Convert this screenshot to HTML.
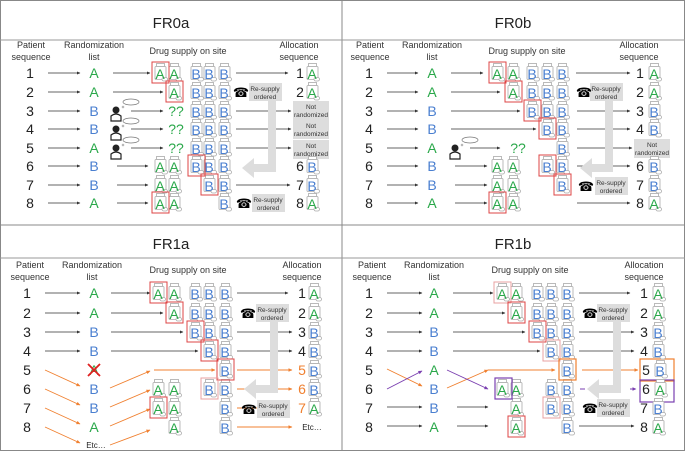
<!DOCTYPE html>
<html><head><meta charset="utf-8"><style>
html,body{margin:0;padding:0;background:#fff}
svg{display:block}
text{font-family:"Liberation Sans",sans-serif}
.t{font-size:15px;fill:#222;text-anchor:middle}
.h{font-size:9px;fill:#333;text-anchor:middle}
.n{font-size:14px;fill:#222;text-anchor:middle}
.g{font-size:14px;fill:#2aa84a;text-anchor:middle}
.b{font-size:14px;fill:#4a7fd0;text-anchor:middle}
.o{font-size:14px;fill:#f08030;text-anchor:middle}
.s{font-size:6.5px;fill:#333;text-anchor:middle}
.e{font-size:8px;fill:#222;text-anchor:middle}
.ph{font-size:13px;fill:#000;text-anchor:middle}
</style></head><body>
<svg width="685" height="451" viewBox="0 0 685 451" xmlns="http://www.w3.org/2000/svg">
<defs>
<marker id="ar" markerWidth="5" markerHeight="5" refX="4" refY="2.5" orient="auto"><path d="M0,0.5 L4.5,2.5 L0,4.5z" fill="#333"/></marker>
<marker id="ao" markerWidth="5" markerHeight="5" refX="4" refY="2.5" orient="auto"><path d="M0,0.5 L4.5,2.5 L0,4.5z" fill="#f08030"/></marker>
<marker id="ap" markerWidth="5" markerHeight="5" refX="4" refY="2.5" orient="auto"><path d="M0,0.5 L4.5,2.5 L0,4.5z" fill="#7a3fb0"/></marker>
<symbol id="bt" viewBox="0 0 14 19"><rect x="2.5" y="0.5" width="8" height="3" fill="#fff" stroke="#aaa" stroke-width="0.8"/><rect x="1" y="3.5" width="11" height="13" rx="1" fill="#fff" stroke="#aaa" stroke-width="0.8"/><rect x="8" y="14.5" width="5.5" height="3.5" rx="1.7" fill="#fff" stroke="#aaa" stroke-width="0.8"/></symbol>
<symbol id="ps" viewBox="0 0 30 24"><ellipse cx="21" cy="4" rx="8" ry="3" fill="#fff" stroke="#777" stroke-width="0.7"/><circle cx="13" cy="9" r="1" fill="none" stroke="#777" stroke-width="0.5"/><circle cx="6" cy="12" r="3.5" fill="#222"/><path d="M1,23 L1,18 Q6,14 11,18 L11,23z" fill="#fff" stroke="#222" stroke-width="1.2"/></symbol>
</defs>
<rect x="0.5" y="0.5" width="684" height="450" fill="none" stroke="#888"/>
<line x1="342" y1="0" x2="342" y2="451" stroke="#888"/>
<line x1="0" y1="225" x2="685" y2="225" stroke="#888"/>
<line x1="0" y1="40" x2="685" y2="40" stroke="#999"/>
<line x1="0" y1="258" x2="685" y2="258" stroke="#999"/>
<text class="t" x="171" y="28">FR0a</text><text class="t" x="513" y="28">FR0b</text>
<text class="t" x="171" y="249">FR1a</text><text class="t" x="513" y="249">FR1b</text>

<!-- ===== FR0a ===== -->
<g>
<text class="h" x="31" y="48">Patient</text><text class="h" x="31" y="60">sequence</text>
<text class="h" x="94" y="48">Randomization</text><text class="h" x="94" y="60">list</text>
<text class="h" x="188" y="54">Drug supply on site</text>
<text class="h" x="299" y="48">Allocation</text><text class="h" x="299" y="60">sequence</text>
<g stroke="#333" stroke-width="0.8" marker-end="url(#ar)">
<line x1="48" y1="73" x2="80" y2="73"/><line x1="48" y1="92" x2="80" y2="92"/><line x1="48" y1="111" x2="80" y2="111"/><line x1="48" y1="129" x2="80" y2="129"/><line x1="48" y1="148" x2="80" y2="148"/><line x1="48" y1="166" x2="80" y2="166"/><line x1="48" y1="185" x2="80" y2="185"/><line x1="48" y1="203" x2="80" y2="203"/>
<line x1="113" y1="73" x2="150" y2="73"/><line x1="113" y1="92" x2="163" y2="92"/>
<line x1="131" y1="111" x2="163" y2="111"/><line x1="131" y1="129" x2="163" y2="129"/><line x1="131" y1="148" x2="163" y2="148"/>
<line x1="117" y1="166" x2="148" y2="166"/><line x1="117" y1="185" x2="148" y2="185"/><line x1="117" y1="203" x2="148" y2="203"/>
<line x1="236" y1="73" x2="288" y2="73"/><line x1="236" y1="111" x2="291" y2="111"/><line x1="236" y1="129" x2="291" y2="129"/><line x1="236" y1="148" x2="291" y2="148"/><line x1="236" y1="185" x2="290" y2="185"/>
</g>
<g class="n"><text class="n" x="30" y="78">1</text><text class="n" x="30" y="97">2</text><text class="n" x="30" y="116">3</text><text class="n" x="30" y="134">4</text><text class="n" x="30" y="153">5</text><text class="n" x="30" y="171">6</text><text class="n" x="30" y="190">7</text><text class="n" x="30" y="208">8</text></g>
<text class="g" x="94" y="78">A</text><text class="g" x="94" y="97">A</text><text class="b" x="94" y="116">B</text><text class="b" x="94" y="134">B</text><text class="g" x="94" y="153">A</text><text class="b" x="94" y="171">B</text><text class="b" x="94" y="190">B</text><text class="g" x="94" y="208">A</text>
<use href="#ps" x="110" y="98" width="30" height="24"/><use href="#ps" x="110" y="117" width="30" height="24"/><use href="#ps" x="110" y="136" width="30" height="24"/>
<text class="g" x="176" y="116">??</text><text class="g" x="176" y="134">??</text><text class="g" x="176" y="153">??</text>
<!-- bottles -->
<g>
<use href="#bt" x="154" y="63" width="14" height="19"/><text class="g" x="160" y="79">A</text>
<use href="#bt" x="168" y="63" width="14" height="19"/><text class="g" x="174" y="79">A</text>
<use href="#bt" x="190" y="63" width="14" height="19"/><text class="b" x="196" y="79">B</text>
<use href="#bt" x="203" y="63" width="14" height="19"/><text class="b" x="209" y="79">B</text>
<use href="#bt" x="218" y="63" width="14" height="19"/><text class="b" x="224" y="79">B</text>
<use href="#bt" x="168" y="82" width="14" height="19"/><text class="g" x="174" y="98">A</text>
<use href="#bt" x="190" y="82" width="14" height="19"/><text class="b" x="196" y="98">B</text>
<use href="#bt" x="203" y="82" width="14" height="19"/><text class="b" x="209" y="98">B</text>
<use href="#bt" x="218" y="82" width="14" height="19"/><text class="b" x="224" y="98">B</text>
<use href="#bt" x="190" y="101" width="14" height="19"/><text class="b" x="196" y="117">B</text>
<use href="#bt" x="203" y="101" width="14" height="19"/><text class="b" x="209" y="117">B</text>
<use href="#bt" x="218" y="101" width="14" height="19"/><text class="b" x="224" y="117">B</text>
<use href="#bt" x="190" y="119" width="14" height="19"/><text class="b" x="196" y="135">B</text>
<use href="#bt" x="203" y="119" width="14" height="19"/><text class="b" x="209" y="135">B</text>
<use href="#bt" x="218" y="119" width="14" height="19"/><text class="b" x="224" y="135">B</text>
<use href="#bt" x="190" y="138" width="14" height="19"/><text class="b" x="196" y="154">B</text>
<use href="#bt" x="203" y="138" width="14" height="19"/><text class="b" x="209" y="154">B</text>
<use href="#bt" x="218" y="138" width="14" height="19"/><text class="b" x="224" y="154">B</text>
<use href="#bt" x="154" y="156" width="14" height="19"/><text class="g" x="160" y="172">A</text>
<use href="#bt" x="168" y="156" width="14" height="19"/><text class="g" x="174" y="172">A</text>
<use href="#bt" x="190" y="156" width="14" height="19"/><text class="b" x="196" y="172">B</text>
<use href="#bt" x="203" y="156" width="14" height="19"/><text class="b" x="209" y="172">B</text>
<use href="#bt" x="218" y="156" width="14" height="19"/><text class="b" x="224" y="172">B</text>
<use href="#bt" x="154" y="175" width="14" height="19"/><text class="g" x="160" y="191">A</text>
<use href="#bt" x="168" y="175" width="14" height="19"/><text class="g" x="174" y="191">A</text>
<use href="#bt" x="203" y="175" width="14" height="19"/><text class="b" x="209" y="191">B</text>
<use href="#bt" x="218" y="175" width="14" height="19"/><text class="b" x="224" y="191">B</text>
<use href="#bt" x="154" y="193" width="14" height="19"/><text class="g" x="160" y="209">A</text>
<use href="#bt" x="168" y="193" width="14" height="19"/><text class="g" x="174" y="209">A</text>
<use href="#bt" x="218" y="193" width="14" height="19"/><text class="b" x="224" y="209">B</text>
</g>
<g fill="none" stroke="#d44" stroke-width="1"><rect x="152" y="62" width="17" height="21"/><rect x="166" y="81" width="17" height="21"/><rect x="188" y="155" width="17" height="21"/><rect x="201" y="174" width="17" height="21"/><rect x="152" y="192" width="17" height="21"/></g>
<!-- big grey arrow -->
<path d="M272,100 V168 H252" fill="none" stroke="#ddd" stroke-width="8"/><path d="M254,158 L242,168 L254,178z" fill="#ddd"/>
<rect x="249" y="83" width="33" height="18" fill="#ddd"/><text class="s" x="265" y="91">Re-supply</text><text class="s" x="265" y="99">ordered</text>
<rect x="252" y="194" width="33" height="18" fill="#ddd"/><text class="s" x="268" y="202">Re-supply</text><text class="s" x="268" y="210">ordered</text>
<text class="ph" x="241" y="97">☎</text><text class="ph" x="244" y="208">☎</text>
<g fill="#ddd"><rect x="293" y="101" width="36" height="19"/><rect x="293" y="120" width="36" height="19"/><rect x="293" y="140" width="36" height="19"/></g>
<g class="s"><text x="311" y="109">Not</text><text x="311" y="117">randomized</text><text x="311" y="128">Not</text><text x="311" y="136">randomized</text><text x="311" y="148">Not</text><text x="311" y="156">randomized</text></g>
<text class="n" x="300" y="78">1</text><use href="#bt" x="306" y="63" width="14" height="19"/><text class="g" x="312" y="79">A</text>
<text class="n" x="300" y="97">2</text><use href="#bt" x="306" y="82" width="14" height="19"/><text class="g" x="312" y="98">A</text>
<text class="n" x="300" y="171">6</text><use href="#bt" x="306" y="156" width="14" height="19"/><text class="b" x="312" y="172">B</text>
<text class="n" x="300" y="190">7</text><use href="#bt" x="306" y="175" width="14" height="19"/><text class="b" x="312" y="191">B</text>
<text class="n" x="300" y="208">8</text><use href="#bt" x="306" y="193" width="14" height="19"/><text class="g" x="312" y="209">A</text>
</g>

<!-- ===== FR0b ===== -->
<g>
<text class="h" x="370" y="48">Patient</text><text class="h" x="370" y="60">sequence</text>
<text class="h" x="432" y="48">Randomization</text><text class="h" x="432" y="60">list</text>
<text class="h" x="527" y="54">Drug supply on site</text>
<text class="h" x="639" y="48">Allocation</text><text class="h" x="639" y="60">sequence</text>
<g stroke="#333" stroke-width="0.8" marker-end="url(#ar)">
<line x1="387" y1="73" x2="418" y2="73"/><line x1="387" y1="92" x2="418" y2="92"/><line x1="387" y1="111" x2="418" y2="111"/><line x1="387" y1="129" x2="418" y2="129"/><line x1="387" y1="148" x2="418" y2="148"/><line x1="387" y1="166" x2="418" y2="166"/><line x1="387" y1="185" x2="418" y2="185"/><line x1="387" y1="203" x2="418" y2="203"/>
<line x1="451" y1="73" x2="483" y2="73"/><line x1="451" y1="92" x2="500" y2="92"/><line x1="451" y1="111" x2="520" y2="111"/><line x1="451" y1="129" x2="536" y2="129"/><line x1="470" y1="148" x2="500" y2="148"/>
<line x1="455" y1="166" x2="487" y2="166"/><line x1="455" y1="185" x2="487" y2="185"/><line x1="455" y1="203" x2="487" y2="203"/>
<line x1="576" y1="73" x2="630" y2="73"/><line x1="577" y1="111" x2="630" y2="111"/><line x1="577" y1="129" x2="630" y2="129"/><line x1="577" y1="148" x2="632" y2="148"/><line x1="577" y1="166" x2="630" y2="166"/><line x1="577" y1="203" x2="630" y2="203"/>
</g>
<text class="n" x="369" y="78">1</text><text class="n" x="369" y="97">2</text><text class="n" x="369" y="116">3</text><text class="n" x="369" y="134">4</text><text class="n" x="369" y="153">5</text><text class="n" x="369" y="171">6</text><text class="n" x="369" y="190">7</text><text class="n" x="369" y="208">8</text>
<text class="g" x="432" y="78">A</text><text class="g" x="432" y="97">A</text><text class="b" x="432" y="116">B</text><text class="b" x="432" y="134">B</text><text class="g" x="432" y="153">A</text><text class="b" x="432" y="171">B</text><text class="b" x="432" y="190">B</text><text class="g" x="432" y="208">A</text>
<use href="#ps" x="449" y="136" width="30" height="24"/><text class="g" x="518" y="153">??</text>
<g>
<use href="#bt" x="491" y="63" width="14" height="19"/><text class="g" x="497" y="79">A</text>
<use href="#bt" x="507" y="63" width="14" height="19"/><text class="g" x="513" y="79">A</text>
<use href="#bt" x="526" y="63" width="14" height="19"/><text class="b" x="532" y="79">B</text>
<use href="#bt" x="541" y="63" width="14" height="19"/><text class="b" x="547" y="79">B</text>
<use href="#bt" x="556" y="63" width="14" height="19"/><text class="b" x="562" y="79">B</text>
<use href="#bt" x="507" y="82" width="14" height="19"/><text class="g" x="513" y="98">A</text>
<use href="#bt" x="526" y="82" width="14" height="19"/><text class="b" x="532" y="98">B</text>
<use href="#bt" x="541" y="82" width="14" height="19"/><text class="b" x="547" y="98">B</text>
<use href="#bt" x="556" y="82" width="14" height="19"/><text class="b" x="562" y="98">B</text>
<use href="#bt" x="526" y="101" width="14" height="19"/><text class="b" x="532" y="117">B</text>
<use href="#bt" x="541" y="101" width="14" height="19"/><text class="b" x="547" y="117">B</text>
<use href="#bt" x="556" y="101" width="14" height="19"/><text class="b" x="562" y="117">B</text>
<use href="#bt" x="541" y="119" width="14" height="19"/><text class="b" x="547" y="135">B</text>
<use href="#bt" x="556" y="119" width="14" height="19"/><text class="b" x="562" y="135">B</text>
<use href="#bt" x="556" y="138" width="14" height="19"/><text class="b" x="562" y="154">B</text>
<use href="#bt" x="491" y="156" width="14" height="19"/><text class="g" x="497" y="172">A</text>
<use href="#bt" x="507" y="156" width="14" height="19"/><text class="g" x="513" y="172">A</text>
<use href="#bt" x="541" y="156" width="14" height="19"/><text class="b" x="547" y="172">B</text>
<use href="#bt" x="556" y="156" width="14" height="19"/><text class="b" x="562" y="172">B</text>
<use href="#bt" x="491" y="175" width="14" height="19"/><text class="g" x="497" y="191">A</text>
<use href="#bt" x="507" y="175" width="14" height="19"/><text class="g" x="513" y="191">A</text>
<use href="#bt" x="556" y="175" width="14" height="19"/><text class="b" x="562" y="191">B</text>
<use href="#bt" x="491" y="193" width="14" height="19"/><text class="g" x="497" y="209">A</text>
<use href="#bt" x="507" y="193" width="14" height="19"/><text class="g" x="513" y="209">A</text>
</g>
<g fill="none" stroke="#d44" stroke-width="1"><rect x="489" y="62" width="17" height="21"/><rect x="505" y="81" width="17" height="21"/><rect x="524" y="100" width="17" height="21"/><rect x="539" y="118" width="17" height="21"/><rect x="539" y="155" width="17" height="21"/><rect x="554" y="174" width="17" height="21"/><rect x="489" y="192" width="17" height="21"/></g>
<path d="M609,100 V168 H590" fill="none" stroke="#ddd" stroke-width="8"/><path d="M592,158 L580,168 L592,178z" fill="#ddd"/>
<rect x="590" y="83" width="33" height="18" fill="#ddd"/><text class="s" x="606" y="91">Re-supply</text><text class="s" x="606" y="99">ordered</text>
<rect x="595" y="177" width="33" height="18" fill="#ddd"/><text class="s" x="611" y="185">Re-supply</text><text class="s" x="611" y="193">ordered</text>
<text class="ph" x="584" y="97">☎</text><text class="ph" x="586" y="191">☎</text>
<rect x="634" y="139" width="36" height="19" fill="#ddd"/><text class="s" x="652" y="147">Not</text><text class="s" x="652" y="155">randomized</text>
<text class="n" x="640" y="78">1</text><use href="#bt" x="648" y="63" width="14" height="19"/><text class="g" x="654" y="79">A</text>
<text class="n" x="640" y="97">2</text><use href="#bt" x="648" y="82" width="14" height="19"/><text class="g" x="654" y="98">A</text>
<text class="n" x="640" y="116">3</text><use href="#bt" x="648" y="101" width="14" height="19"/><text class="b" x="654" y="117">B</text>
<text class="n" x="640" y="134">4</text><use href="#bt" x="648" y="119" width="14" height="19"/><text class="b" x="654" y="135">B</text>
<text class="n" x="640" y="171">6</text><use href="#bt" x="648" y="156" width="14" height="19"/><text class="b" x="654" y="172">B</text>
<text class="n" x="640" y="190">7</text><use href="#bt" x="648" y="175" width="14" height="19"/><text class="b" x="654" y="191">B</text>
<text class="n" x="640" y="208">8</text><use href="#bt" x="648" y="193" width="14" height="19"/><text class="g" x="654" y="209">A</text>
</g>

<!-- ===== FR1a ===== -->
<g>
<text class="h" x="30" y="268">Patient</text><text class="h" x="30" y="280">sequence</text>
<text class="h" x="92" y="268">Randomization</text><text class="h" x="92" y="280">list</text>
<text class="h" x="188" y="273">Drug supply on site</text>
<text class="h" x="302" y="268">Allocation</text><text class="h" x="302" y="280">sequence</text>
<g stroke="#333" stroke-width="0.8" marker-end="url(#ar)">
<line x1="45" y1="293" x2="80" y2="293"/><line x1="45" y1="313" x2="80" y2="313"/><line x1="45" y1="332" x2="80" y2="332"/><line x1="45" y1="351" x2="80" y2="351"/>
<line x1="111" y1="293" x2="150" y2="293"/><line x1="111" y1="313" x2="163" y2="313"/><line x1="111" y1="332" x2="183" y2="332"/><line x1="111" y1="351" x2="198" y2="351"/>
<line x1="237" y1="293" x2="288" y2="293"/><line x1="237" y1="332" x2="292" y2="332"/><line x1="237" y1="351" x2="292" y2="351"/>
</g>
<g stroke="#f08030" stroke-width="0.9" marker-end="url(#ao)">
<line x1="45" y1="370" x2="80" y2="386"/><line x1="45" y1="389" x2="80" y2="405"/><line x1="45" y1="408" x2="80" y2="424"/><line x1="45" y1="427" x2="80" y2="443"/>
<line x1="110" y1="388" x2="150" y2="371"/><line x1="110" y1="407" x2="150" y2="390"/><line x1="110" y1="426" x2="150" y2="409"/><line x1="110" y1="445" x2="150" y2="430"/>
<line x1="154" y1="370" x2="215" y2="370"/>
<line x1="237" y1="370" x2="292" y2="370"/><line x1="237" y1="389" x2="292" y2="389"/><line x1="237" y1="408" x2="290" y2="408"/><line x1="237" y1="427" x2="292" y2="427"/>
</g>
<text class="n" x="27" y="298">1</text><text class="n" x="27" y="318">2</text><text class="n" x="27" y="337">3</text><text class="n" x="27" y="356">4</text><text class="n" x="27" y="375">5</text><text class="n" x="27" y="394">6</text><text class="n" x="27" y="413">7</text><text class="n" x="27" y="432">8</text>
<text class="g" x="94" y="298">A</text><text class="g" x="94" y="318">A</text><text class="b" x="94" y="337">B</text><text class="b" x="94" y="356">B</text>
<text class="g" x="94" y="375">A</text><path d="M88,364 L100,376 M100,364 L88,376" stroke="#e02020" stroke-width="1.8"/>
<text class="b" x="94" y="394">B</text><text class="b" x="94" y="413">B</text><text class="g" x="94" y="432">A</text><text class="e" x="96" y="448">Etc…</text>
<g>
<use href="#bt" x="152" y="283" width="14" height="19"/><text class="g" x="158" y="299">A</text>
<use href="#bt" x="168" y="283" width="14" height="19"/><text class="g" x="174" y="299">A</text>
<use href="#bt" x="189" y="283" width="14" height="19"/><text class="b" x="195" y="299">B</text>
<use href="#bt" x="203" y="283" width="14" height="19"/><text class="b" x="209" y="299">B</text>
<use href="#bt" x="219" y="283" width="14" height="19"/><text class="b" x="225" y="299">B</text>
<use href="#bt" x="168" y="303" width="14" height="19"/><text class="g" x="174" y="319">A</text>
<use href="#bt" x="189" y="303" width="14" height="19"/><text class="b" x="195" y="319">B</text>
<use href="#bt" x="203" y="303" width="14" height="19"/><text class="b" x="209" y="319">B</text>
<use href="#bt" x="219" y="303" width="14" height="19"/><text class="b" x="225" y="319">B</text>
<use href="#bt" x="189" y="322" width="14" height="19"/><text class="b" x="195" y="338">B</text>
<use href="#bt" x="203" y="322" width="14" height="19"/><text class="b" x="209" y="338">B</text>
<use href="#bt" x="219" y="322" width="14" height="19"/><text class="b" x="225" y="338">B</text>
<use href="#bt" x="203" y="341" width="14" height="19"/><text class="b" x="209" y="357">B</text>
<use href="#bt" x="219" y="341" width="14" height="19"/><text class="b" x="225" y="357">B</text>
<use href="#bt" x="219" y="360" width="14" height="19"/><text class="b" x="225" y="376">B</text>
<use href="#bt" x="152" y="379" width="14" height="19"/><text class="g" x="158" y="395">A</text>
<use href="#bt" x="168" y="379" width="14" height="19"/><text class="g" x="174" y="395">A</text>
<use href="#bt" x="203" y="379" width="14" height="19"/><text class="b" x="209" y="395">B</text>
<use href="#bt" x="219" y="379" width="14" height="19"/><text class="b" x="225" y="395">B</text>
<use href="#bt" x="152" y="398" width="14" height="19"/><text class="g" x="158" y="414">A</text>
<use href="#bt" x="168" y="398" width="14" height="19"/><text class="g" x="174" y="414">A</text>
<use href="#bt" x="219" y="398" width="14" height="19"/><text class="b" x="225" y="414">B</text>
<use href="#bt" x="168" y="417" width="14" height="19"/><text class="g" x="174" y="433">A</text>
<use href="#bt" x="219" y="417" width="14" height="19"/><text class="b" x="225" y="433">B</text>
</g>
<g fill="none" stroke="#d44" stroke-width="1"><rect x="150" y="282" width="17" height="21"/><rect x="166" y="302" width="17" height="21"/><rect x="187" y="321" width="17" height="21"/><rect x="201" y="340" width="17" height="21"/><rect x="217" y="359" width="17" height="21"/><rect x="201" y="378" width="17" height="21" stroke="#e8a0a0"/><rect x="150" y="397" width="17" height="21"/></g>
<path d="M274,322 V389 H254" fill="none" stroke="#ddd" stroke-width="8"/><path d="M256,379 L244,389 L256,399z" fill="#ddd"/>
<rect x="256" y="304" width="33" height="18" fill="#ddd"/><text class="s" x="272" y="312">Re-supply</text><text class="s" x="272" y="320">ordered</text>
<rect x="257" y="400" width="33" height="18" fill="#ddd"/><text class="s" x="273" y="408">Re-supply</text><text class="s" x="273" y="416">ordered</text>
<text class="ph" x="248" y="318">☎</text><text class="ph" x="249" y="414">☎</text>
<text class="n" x="302" y="298">1</text><use href="#bt" x="308" y="283" width="14" height="19"/><text class="g" x="314" y="299">A</text>
<text class="n" x="302" y="318">2</text><use href="#bt" x="308" y="303" width="14" height="19"/><text class="g" x="314" y="319">A</text>
<text class="n" x="302" y="337">3</text><use href="#bt" x="308" y="322" width="14" height="19"/><text class="b" x="314" y="338">B</text>
<text class="n" x="302" y="356">4</text><use href="#bt" x="308" y="341" width="14" height="19"/><text class="b" x="314" y="357">B</text>
<text class="o" x="302" y="375">5</text><use href="#bt" x="308" y="360" width="14" height="19"/><text class="b" x="314" y="376">B</text>
<text class="o" x="302" y="394">6</text><use href="#bt" x="308" y="379" width="14" height="19"/><text class="b" x="314" y="395">B</text>
<text class="o" x="302" y="413">7</text><use href="#bt" x="308" y="398" width="14" height="19"/><text class="g" x="314" y="414">A</text>
<text class="e" x="312" y="430">Etc…</text>
</g>

<!-- ===== FR1b ===== -->
<g>
<text class="h" x="372" y="268">Patient</text><text class="h" x="372" y="280">sequence</text>
<text class="h" x="434" y="268">Randomization</text><text class="h" x="434" y="280">list</text>
<text class="h" x="530" y="273">Drug supply on site</text>
<text class="h" x="644" y="268">Allocation</text><text class="h" x="644" y="280">sequence</text>
<g stroke="#333" stroke-width="0.8" marker-end="url(#ar)">
<line x1="387" y1="293" x2="422" y2="293"/><line x1="387" y1="313" x2="422" y2="313"/><line x1="387" y1="332" x2="422" y2="332"/><line x1="387" y1="351" x2="422" y2="351"/><line x1="387" y1="407" x2="422" y2="407"/><line x1="387" y1="426" x2="422" y2="426"/>
<line x1="453" y1="293" x2="493" y2="293"/><line x1="453" y1="313" x2="505" y2="313"/><line x1="453" y1="332" x2="525" y2="332"/><line x1="453" y1="351" x2="540" y2="351"/>
<line x1="457" y1="407" x2="488" y2="407"/><line x1="457" y1="426" x2="488" y2="426"/>
<line x1="579" y1="293" x2="630" y2="293"/><line x1="579" y1="332" x2="634" y2="332"/><line x1="579" y1="351" x2="634" y2="351"/><line x1="579" y1="426" x2="634" y2="426"/>
</g>
<g stroke="#f08030" stroke-width="0.9" marker-end="url(#ao)"><line x1="387" y1="369" x2="422" y2="386"/><line x1="447" y1="388" x2="488" y2="370"/><line x1="488" y1="370" x2="555" y2="370"/><line x1="582" y1="370" x2="638" y2="370"/></g>
<g stroke="#7a3fb0" stroke-width="0.9" marker-end="url(#ap)"><line x1="387" y1="389" x2="422" y2="371"/><line x1="447" y1="370" x2="488" y2="389"/><line x1="580" y1="389" x2="636" y2="389" stroke-dasharray="5,20"/></g>
<text class="n" x="369" y="298">1</text><text class="n" x="369" y="318">2</text><text class="n" x="369" y="337">3</text><text class="n" x="369" y="356">4</text><text class="n" x="369" y="375">5</text><text class="n" x="369" y="394">6</text><text class="n" x="369" y="413">7</text><text class="n" x="369" y="432">8</text>
<text class="g" x="434" y="298">A</text><text class="g" x="434" y="318">A</text><text class="b" x="434" y="337">B</text><text class="b" x="434" y="356">B</text><text class="g" x="434" y="375">A</text><text class="b" x="434" y="394">B</text><text class="b" x="434" y="413">B</text><text class="g" x="434" y="432">A</text>
<g>
<use href="#bt" x="496" y="283" width="14" height="19"/><text class="g" x="502" y="299">A</text>
<use href="#bt" x="510" y="283" width="14" height="19"/><text class="g" x="516" y="299">A</text>
<use href="#bt" x="531" y="283" width="14" height="19"/><text class="b" x="537" y="299">B</text>
<use href="#bt" x="545" y="283" width="14" height="19"/><text class="b" x="551" y="299">B</text>
<use href="#bt" x="561" y="283" width="14" height="19"/><text class="b" x="567" y="299">B</text>
<use href="#bt" x="510" y="303" width="14" height="19"/><text class="g" x="516" y="319">A</text>
<use href="#bt" x="531" y="303" width="14" height="19"/><text class="b" x="537" y="319">B</text>
<use href="#bt" x="545" y="303" width="14" height="19"/><text class="b" x="551" y="319">B</text>
<use href="#bt" x="561" y="303" width="14" height="19"/><text class="b" x="567" y="319">B</text>
<use href="#bt" x="531" y="322" width="14" height="19"/><text class="b" x="537" y="338">B</text>
<use href="#bt" x="545" y="322" width="14" height="19"/><text class="b" x="551" y="338">B</text>
<use href="#bt" x="561" y="322" width="14" height="19"/><text class="b" x="567" y="338">B</text>
<use href="#bt" x="545" y="341" width="14" height="19"/><text class="b" x="551" y="357">B</text>
<use href="#bt" x="561" y="341" width="14" height="19"/><text class="b" x="567" y="357">B</text>
<use href="#bt" x="561" y="360" width="14" height="19"/><text class="b" x="567" y="376">B</text>
<use href="#bt" x="496" y="379" width="14" height="19"/><text class="g" x="502" y="395">A</text>
<use href="#bt" x="510" y="379" width="14" height="19"/><text class="g" x="516" y="395">A</text>
<use href="#bt" x="545" y="379" width="14" height="19"/><text class="b" x="551" y="395">B</text>
<use href="#bt" x="561" y="379" width="14" height="19"/><text class="b" x="567" y="395">B</text>
<use href="#bt" x="510" y="398" width="14" height="19"/><text class="g" x="516" y="414">A</text>
<use href="#bt" x="545" y="398" width="14" height="19"/><text class="b" x="551" y="414">B</text>
<use href="#bt" x="561" y="398" width="14" height="19"/><text class="b" x="567" y="414">B</text>
<use href="#bt" x="510" y="417" width="14" height="19"/><text class="g" x="516" y="433">A</text>
<use href="#bt" x="561" y="417" width="14" height="19"/><text class="b" x="567" y="433">B</text>
</g>
<g fill="none" stroke="#d44" stroke-width="1"><rect x="494" y="282" width="17" height="21" stroke="#e8a0a0"/><rect x="508" y="302" width="17" height="21"/><rect x="529" y="321" width="17" height="21"/><rect x="543" y="340" width="17" height="21" stroke="#e8a0a0"/><rect x="543" y="397" width="17" height="21" stroke="#e8a0a0"/><rect x="508" y="416" width="17" height="21"/></g>
<rect x="559" y="359" width="17" height="21" fill="none" stroke="#f08030" stroke-width="1.2"/>
<rect x="495" y="378" width="17" height="21" fill="none" stroke="#7a3fb0" stroke-width="1.2"/>
<path d="M617,322 V389 H597" fill="none" stroke="#ddd" stroke-width="8"/><path d="M599,379 L587,389 L599,399z" fill="#ddd"/>
<rect x="597" y="304" width="33" height="18" fill="#ddd"/><text class="s" x="613" y="312">Re-supply</text><text class="s" x="613" y="320">ordered</text>
<rect x="597" y="399" width="33" height="18" fill="#ddd"/><text class="s" x="613" y="407">Re-supply</text><text class="s" x="613" y="415">ordered</text>
<text class="ph" x="590" y="318">☎</text><text class="ph" x="590" y="413">☎</text>
<rect x="640" y="359" width="34" height="22" fill="none" stroke="#f08030" stroke-width="1.2"/>
<rect x="640" y="380" width="34" height="22" fill="none" stroke="#7a3fb0" stroke-width="1.2"/>
<text class="n" x="644" y="298">1</text><use href="#bt" x="652" y="283" width="14" height="19"/><text class="g" x="658" y="299">A</text>
<text class="n" x="644" y="318">2</text><use href="#bt" x="652" y="303" width="14" height="19"/><text class="g" x="658" y="319">A</text>
<text class="n" x="644" y="337">3</text><use href="#bt" x="652" y="322" width="14" height="19"/><text class="b" x="658" y="338">B</text>
<text class="n" x="644" y="356">4</text><use href="#bt" x="652" y="341" width="14" height="19"/><text class="b" x="658" y="357">B</text>
<text class="n" x="646" y="375">5</text><use href="#bt" x="654" y="360" width="14" height="19"/><text class="b" x="660" y="376">B</text>
<text class="n" x="646" y="394">6</text><use href="#bt" x="654" y="379" width="14" height="19"/><text class="g" x="660" y="395">A</text>
<text class="n" x="644" y="413">7</text><use href="#bt" x="652" y="398" width="14" height="19"/><text class="b" x="658" y="414">B</text>
<text class="n" x="644" y="432">8</text><use href="#bt" x="652" y="417" width="14" height="19"/><text class="g" x="658" y="433">A</text>
</g>
</svg>
</body></html>
